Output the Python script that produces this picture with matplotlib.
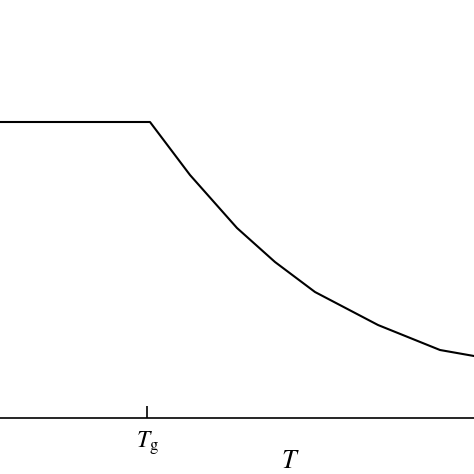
import matplotlib
matplotlib.use("Agg")
import matplotlib.pyplot as plt

plt.rcParams['mathtext.fontset'] = 'stix'
plt.rcParams['font.family'] = ['DejaVu Serif']

# curve points (period T, spectral value)
T_vals = [0, 150, 190, 237, 275, 315, 378, 440, 474]
S_vals = [296, 296, 243, 190, 156, 126, 93, 68, 62]
Tg = 147

fig = plt.figure(figsize=(4.74, 4.74), dpi=100)
ax = fig.add_axes([0, 56/474, 1, 418/474])
ax.plot(T_vals, S_vals, color='black', lw=1.5)
ax.set_xlim(0, 474)
ax.set_ylim(0, 418)
for s in ['top', 'right', 'left']:
    ax.spines[s].set_visible(False)
ax.spines['bottom'].set_linewidth(1.2)
ax.set_yticks([])
ax.set_xticks([Tg])
ax.set_xticklabels([r'$T_{\rm g}$'], fontsize=17)
ax.tick_params(axis='x', direction='in', length=9, width=1.2, pad=8)
ax.set_xlabel(r'$T$', fontsize=19)
ax.xaxis.set_label_coords(290/474, -30/418)
fig.savefig('out.png', dpi=100)
